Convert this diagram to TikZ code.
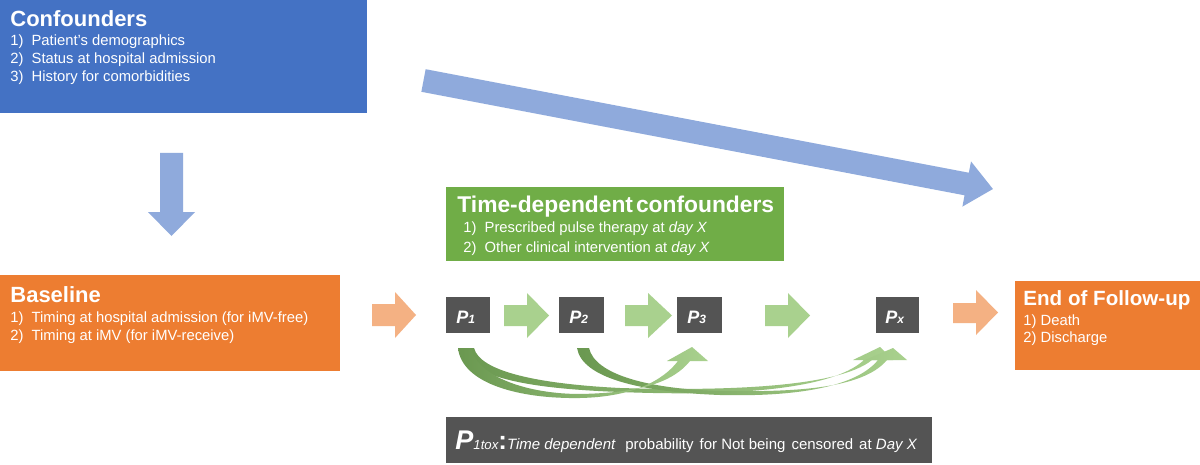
\documentclass[tikz,border=0pt]{standalone}
\usepackage{fontspec}
\setmainfont{Liberation Sans}
\usetikzlibrary{fit}
\definecolor{cblue}{HTML}{4472C4}
\definecolor{corange}{HTML}{ED7D31}
\definecolor{cgreen}{HTML}{70AD47}
\definecolor{cdark}{HTML}{545454}
\definecolor{lblue}{HTML}{8FAADC}
\definecolor{lgreen}{HTML}{A9D18E}
\definecolor{dgreen}{HTML}{6A9850}
\definecolor{lorange}{HTML}{F4B183}
\begin{document}
\begin{tikzpicture}[x=0.5pt,y=-0.5pt,
  box/.style={inner sep=0pt, outer sep=0pt, draw=none},
  ttl/.style={font=\bfseries\fontsize{11}{13}\selectfont, text=white, anchor=base west, inner sep=0pt},
  itm/.style={font=\fontsize{7.4}{9}\selectfont, text=white, anchor=base west, inner sep=0pt},
  plab/.style={font=\bfseries\itshape\fontsize{9}{10}\selectfont, text=white, anchor=base west, inner sep=0pt},
  greenarrow/.style={fill=lgreen},
  orangearrow/.style={fill=lorange},
  bluearrow/.style={fill=lblue},
  curvearrow/.style={left color=dgreen, right color=lgreen}
]
\useasboundingbox (0,0) rectangle (1200,465);
\fill[white] (0,0) rectangle (1200,465);

% ---- boxes ----
\node[box, fill=cblue, fit={(0,0) (367,113)}] (conf) {};
\node[ttl] (conft) at (10,27) {Confounders};
\node[itm] (conf1) at (10,46) {1)\hspace{4pt}Patient’s demographics};
\node[itm] (conf2) at (10,64) {2)\hspace{2pt} Status at hospital admission};
\node[itm] (conf3) at (10,82) {3)\hspace{2pt} History for comorbidities};

\node[box, fill=corange, fit={(0,275) (340,371)}] (base) {};
\node[ttl] (baset) at (10,302) {Baseline};
\node[itm] (base1) at (10,322) {1)\hspace{2pt} Timing at hospital admission (for iMV-free)};
\node[itm] (base2) at (10,340) {2)\hspace{2pt} Timing at iMV (for iMV-receive)};

\node[box, fill=cgreen, fit={(446,187) (784,261)}] (tdc) {};
\node[ttl, font=\bfseries\fontsize{11.4}{13}\selectfont] (tdct) at (457,213) {Time-dependent\hspace{1.5pt}confounders};
\node[itm] (tdc1) at (463,233) {1)\hspace{2pt} Prescribed pulse therapy at \textit{day X}};
\node[itm] (tdc2) at (463,252) {2)\hspace{2pt} Other clinical intervention at \textit{day X}};

\node[box, fill=corange, fit={(1015,281) (1200,370)}] (end) {};
\node[ttl, font=\bfseries\fontsize{10.3}{12}\selectfont] (endt) at (1023,305) {End of Follow-up};
\node[itm] (end1) at (1023,325) {1) Death};
\node[itm] (end2) at (1023,342) {2) Discharge};

% ---- P boxes ----
\node[box, fill=cdark, fit={(446,297) (490,333)}] (p1) {};
\node[box, fill=cdark, fit={(559,297) (604,333)}] (p2) {};
\node[box, fill=cdark, fit={(677,297) (722,333)}] (p3) {};
\node[box, fill=cdark, fit={(876,297) (919,333)}] (px) {};
\node[plab] (p1l) at (456,323) {P{\fontsize{6}{6}\selectfont 1}};
\node[plab] (p2l) at (569,323) {P{\fontsize{6}{6}\selectfont 2}};
\node[plab] (p3l) at (687,323) {P{\fontsize{6}{6}\selectfont 3}};
\node[plab] (pxl) at (885,323) {P{\fontsize{6}{6}\selectfont x}};

% ---- bottom box ----
\node[box, fill=cdark, fit={(446,417) (932,463)}] (prob) {};
\node[inner sep=0pt, anchor=base west, text=white] (probt) at (455,449)
  {{\bfseries\itshape\fontsize{13.5}{14}\selectfont P}{\itshape\fontsize{6.6}{8}\selectfont 1tox}{\bfseries\fontsize{13}{14}\selectfont :}{\fontsize{7.5}{10}\selectfont\itshape Time dependent\upshape\hspace{5pt}probability\hspace{3pt}for Not being\hspace{3pt}censored\hspace{3pt}at \itshape Day X}};

% ---- blue arrows ----
\path[bluearrow] (160,153) -- (183,153) -- (183,212) -- (195,212) -- (171.5,236) -- (148,212) -- (160,212) -- cycle;
\begin{scope}[shift={(423.5,80.5)}, rotate=-10.79]
\path[bluearrow] (0,-11.5) -- (553,-11.5) -- (553,-23) -- (579.7,0) -- (553,23) -- (553,11.5) -- (0,11.5) -- cycle;
\end{scope}

% ---- orange arrows ----
\path[orangearrow] (372,304) -- (395,304) -- (395,292) -- (416,315) -- (395,338) -- (395,326) -- (372,326) -- cycle;
\path[orangearrow] (953,303) -- (976,303) -- (976,290) -- (998,312.5) -- (976,335) -- (976,323) -- (953,323) -- cycle;

% ---- green arrows ----
\path[greenarrow] (504,305) -- (527,305) -- (527,293) -- (549,315.5) -- (527,338) -- (527,326) -- (504,326) -- cycle;
\path[greenarrow] (625,305) -- (648,305) -- (648,293) -- (672,315.5) -- (648,338) -- (648,326) -- (625,326) -- cycle;
\path[greenarrow] (765,305) -- (788,305) -- (788,293) -- (810,315.5) -- (788,338) -- (788,326) -- (765,326) -- cycle;

% ---- curved arrows ----
% P1 -> Px
\shade[curvearrow] (460,348) .. controls (468,380) and (540,389) .. (620,392) .. controls (720,396) and (830,392) .. (864,360)
  -- (853,360) -- (880,347) -- (893,360) -- (872,360)
  .. controls (838,388) and (720,391) .. (620,388) .. controls (540,384) and (480,372) .. (474,348) -- cycle;
% P2 -> Px
\shade[curvearrow] (577,348) .. controls (582,378) and (640,392) .. (720,395) .. controls (800,397) and (857,386) .. (878,360)
  -- (865,360) -- (893,348) -- (907,360) -- (887,360)
  .. controls (862,390) and (790,392) .. (720,391) .. controls (650,389) and (595,375) .. (589,348) -- cycle;
% P1 -> P3
\shade[curvearrow] (458,348) .. controls (462,384) and (520,399) .. (580,398) .. controls (630,397) and (662,382) .. (678,361)
  -- (667,361) -- (692,347) -- (708,361) -- (690,361)
  .. controls (670,386) and (630,393) .. (580,394) .. controls (530,394) and (478,378) .. (471,348) -- cycle;
\end{tikzpicture}
\end{document}
